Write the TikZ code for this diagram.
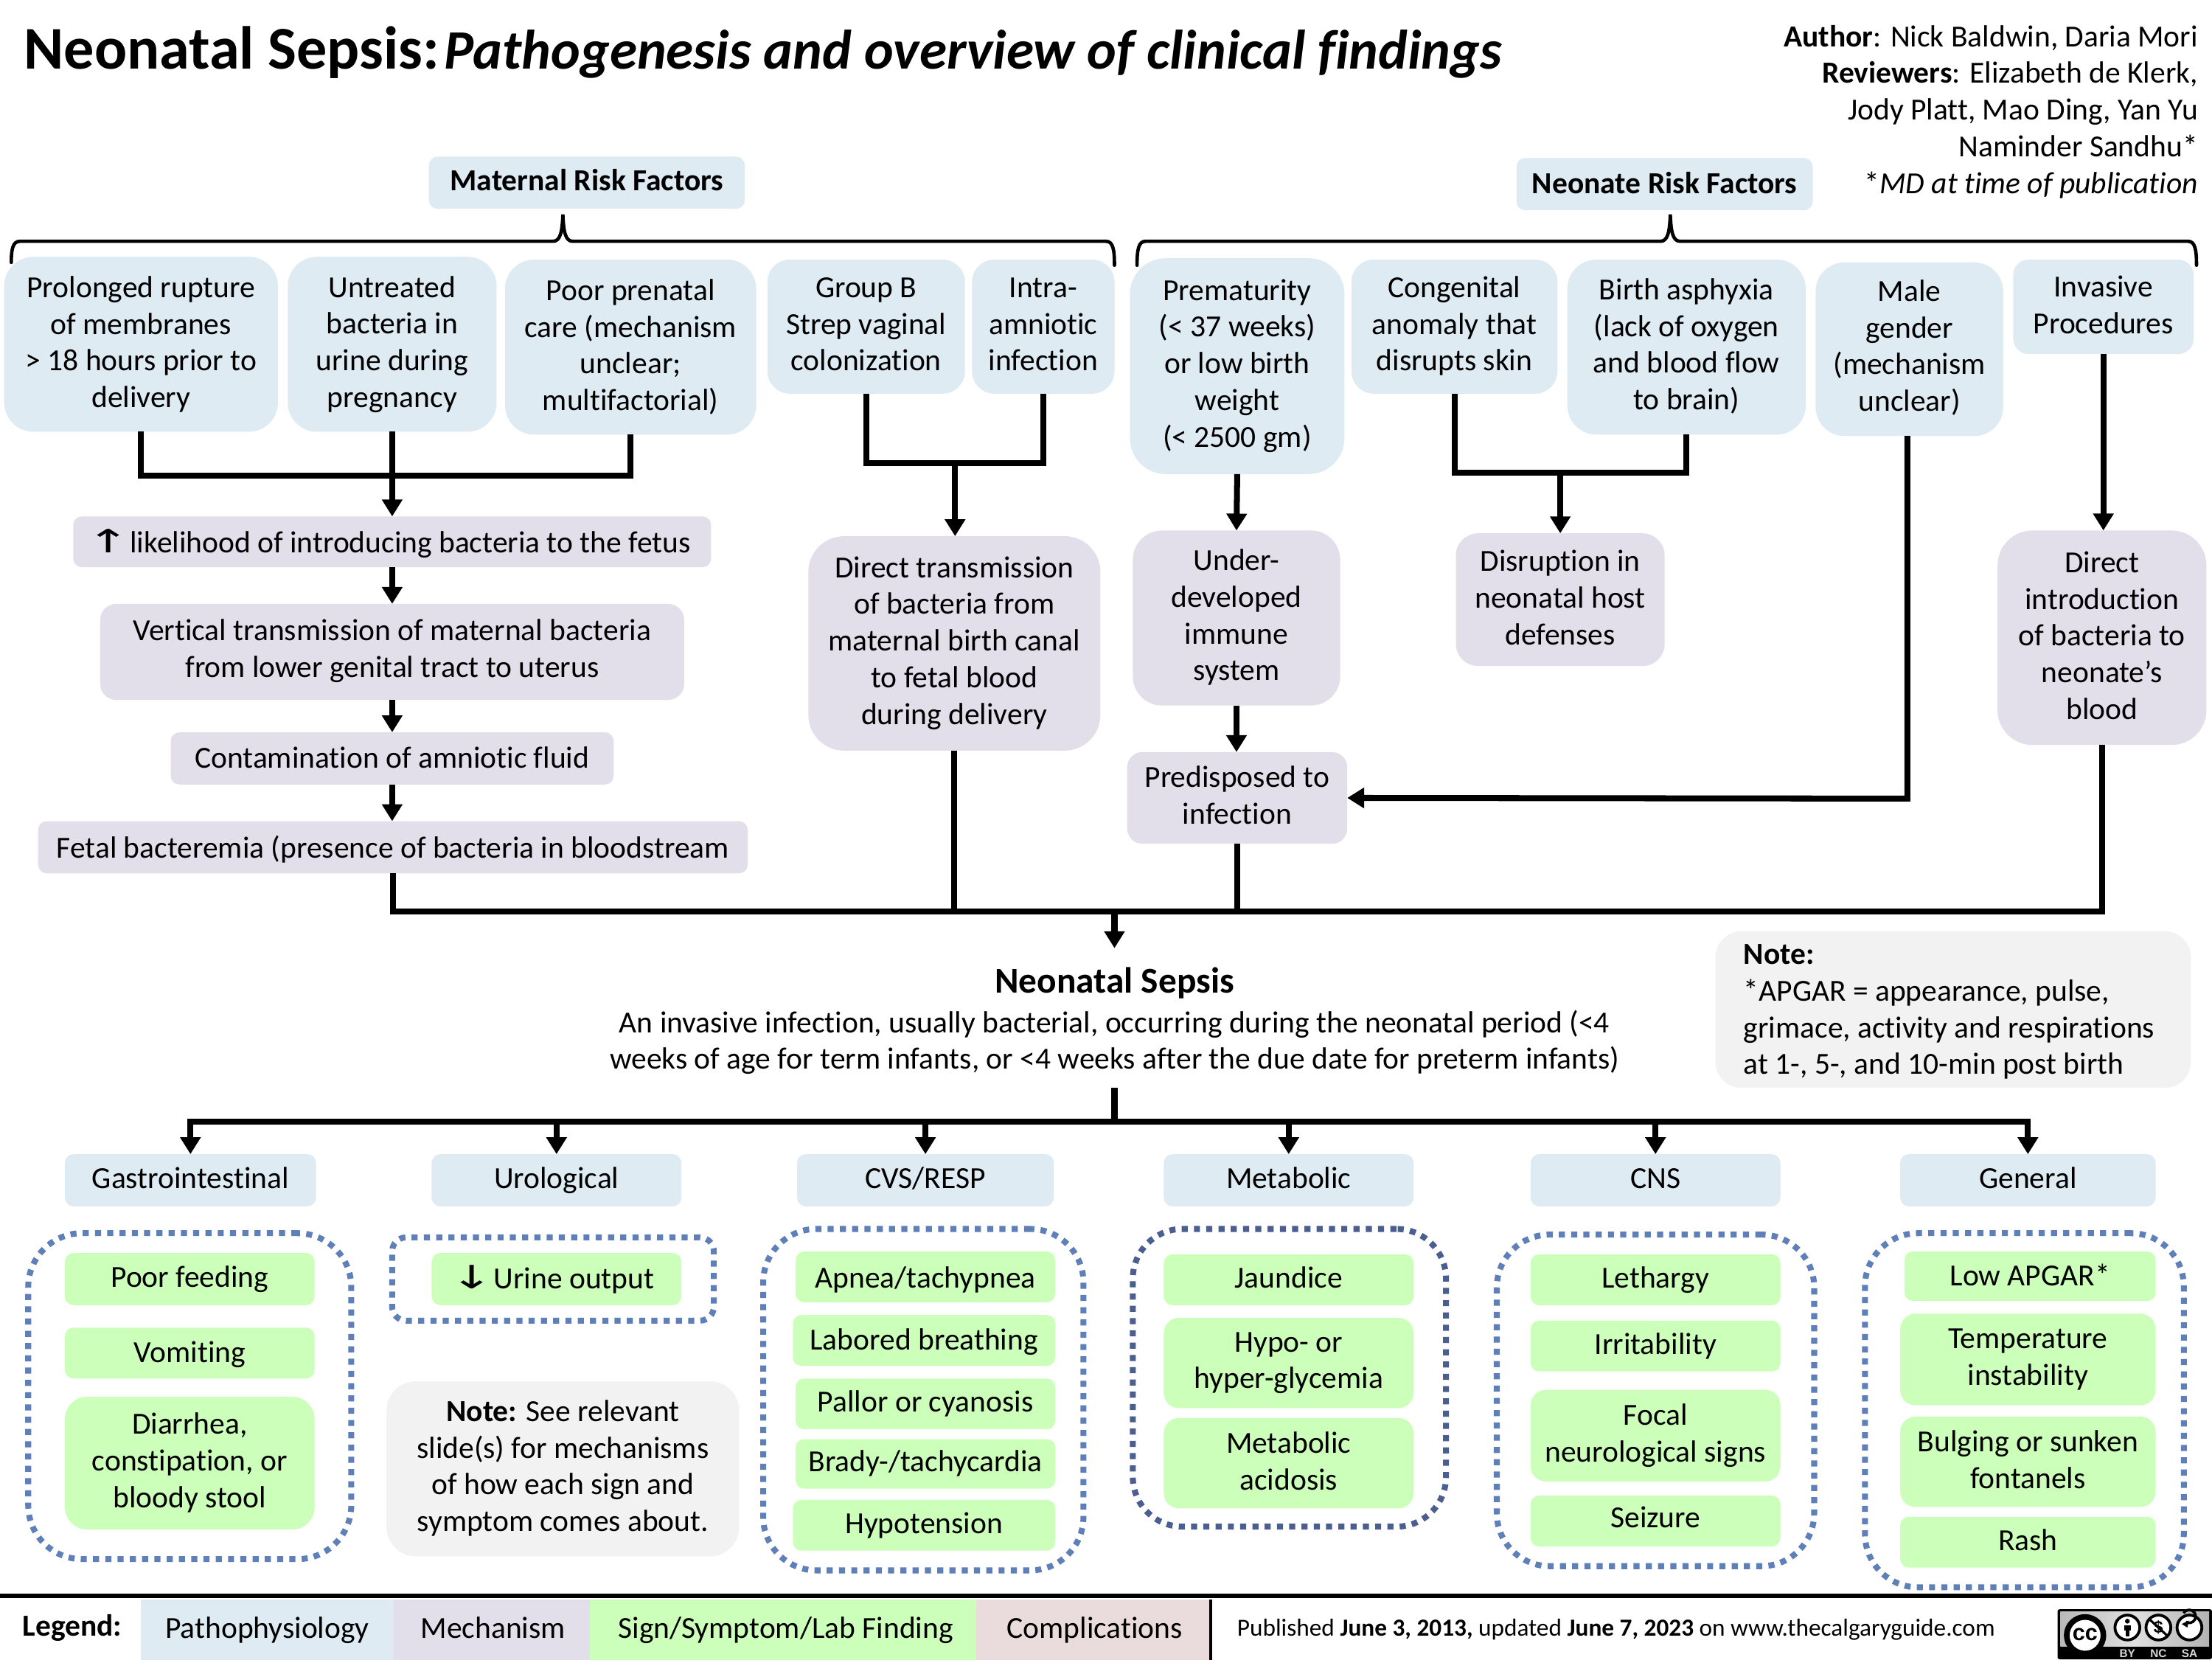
\documentclass[tikz,border=0pt]{standalone}
\usepackage{fontspec}
\setmainfont[Ligatures=NoCommon]{Carlito}
\newfontfamily\arrowfont{DejaVu Sans}
\newfontfamily\badgefont{Liberation Sans}
\usetikzlibrary{arrows.meta}
\definecolor{cblue}{HTML}{DEEBF2}
\definecolor{cpurp}{HTML}{E2DEEA}
\definecolor{cgreen}{HTML}{CCFFBA}
\definecolor{cgray}{HTML}{F2F2F2}
\definecolor{cred}{HTML}{EADCDC}
\definecolor{cdot}{HTML}{5F7FB8}
\definecolor{cdotd}{HTML}{4A5F8F}
\newcommand{\bxx}[7]{%
  \pgfmathsetmacro\cxx{(#2+#4)/2}\pgfmathsetmacro\cyy{(#3+#5)/2}%
  \pgfmathsetmacro\ww{#4-#2}\pgfmathsetmacro\hh{#5-#3}%
  \pgfmathsetmacro\rr{0.1667*min(\ww,\hh)}%
  \node[#6,minimum width=\ww pt,minimum height=\hh pt,rounded corners=\rr pt] (#1) at (\cxx,\cyy) {#7};}
\newcommand{\upar}{{\arrowfont\scalebox{1.7}[1.05]{↑}}}
\newcommand{\dnar}{{\arrowfont\scalebox{1.7}[1.05]{↓}}}
\def\shft{0}
\newcommand{\lowstrut}{\rule[\dimexpr-5.3pt-\shft pt\relax]{0pt}{26pt}}
\tikzset{
  sh/.code={\def\shft{#1}},
  txt/.style={inner sep=0pt,outer sep=0pt,align=center,text=black,
    font=\fontsize{21.7}{26}\selectfont,
    execute at begin node=\lowstrut,execute at end node=\lowstrut},
  blu/.style={txt,fill=cblue},
  pur/.style={txt,fill=cpurp},
  grn/.style={txt,fill=cgreen},
  gry/.style={txt,fill=cgray},
  dotbox/.style={inner sep=0pt,outer sep=0pt,draw=cdot,line width=4.2pt,dash pattern=on 4.3pt off 4.4pt},
  conn/.style={line width=4.2pt,line join=miter,line cap=butt},
  arr/.style={conn,-{Triangle[length=12pt,width=14pt]}},
  brace/.style={line width=2.4pt,line cap=round},
  cell/.style={inner sep=0pt,outer sep=0pt,text=black,rectangle,font=\fontsize{21.7}{26}\selectfont,
    minimum height=43pt,text depth=6pt,text height=18pt},
  ring/.style={fill=white,draw=black,line width=2pt},
  cctxt/.style={inner sep=0pt,font=\badgefont\bfseries}
}
\begin{document}
\begin{tikzpicture}[x=1pt,y=-1pt]
\path[use as bounding box,fill=white] (0,0) rectangle (1568,1176);
% title
\node[txt,anchor=base west,font=\fontsize{43}{46}\selectfont\bfseries] (title) at (17,49) {Neonatal Sepsis:};
\node[txt,anchor=base west,font=\fontsize{39.4}{46}\selectfont\bfseries\itshape] (subtitle) at (315,49) {Pathogenesis and overview of clinical findings};
\node[txt,anchor=east,align=right] (author) at (1558,80) {\textbf{Author}: Nick Baldwin, Daria Mori\\\textbf{Reviewers}: Elizabeth de Klerk,\\Jody Platt, Mao Ding, Yan Yu\\Naminder Sandhu*\\*\textit{MD at time of publication}};
% headers
\bxx{mrf}{304}{111}{528}{148}{blu,sh=2}{\textbf{Maternal Risk Factors}}
\bxx{nrf}{1075}{112}{1285}{149}{blu,sh=1}{\textbf{Neonate Risk Factors}}
% braces
\draw[brace] (8,186) .. controls (8,177) and (9,171) .. (14,171) -- (392,171) .. controls (397,171) and (398.5,165) .. (399,152) .. controls (399.5,165) and (401,171) .. (406,171) -- (784,171) .. controls (789,171) and (790,177) .. (790,188);
\draw[brace] (806,188) .. controls (806,177) and (807,171) .. (812,171) -- (1177,171) .. controls (1182,171) and (1183.5,165) .. (1184,152) .. controls (1184.5,165) and (1186,171) .. (1191,171) -- (1551,171) .. controls (1556,171) and (1557,177) .. (1557,188);
% risk factors
\bxx{p1}{3}{182}{197}{306}{blu,sh=-2}{Prolonged rupture\\of membranes\\> 18 hours prior to\\delivery}
\bxx{p2}{204}{182}{352}{306}{blu,sh=-2}{Untreated\\bacteria in\\urine during\\pregnancy}
\bxx{p3}{358}{184}{536}{308}{blu,sh=-2}{Poor prenatal\\care (mechanism\\unclear;\\multifactorial)}
\bxx{p4}{544}{184}{684}{279}{blu,sh=-2}{Group B\\Strep vaginal\\colonization}
\bxx{p5}{689}{184}{790}{279}{blu,sh=-2}{Intra-\\amniotic\\infection}
\bxx{p6}{801}{183}{953}{336}{blu,sh=-1}{Prematurity\\(< 37 weeks)\\or low birth\\weight\\(< 2500 gm)}
\bxx{p7}{958}{184}{1104}{279}{blu,sh=-1}{Congenital\\anomaly that\\disrupts skin}
\bxx{p8}{1111}{184}{1280}{308}{blu,sh=-1}{Birth asphyxia\\(lack of oxygen\\and blood flow\\to brain)}
\bxx{p9}{1287}{186}{1420}{309}{blu}{Male\\gender\\(mechanism\\unclear)}
\bxx{p10}{1427}{184}{1555}{251}{blu,sh=-2}{Invasive\\Procedures}
% mechanisms
\bxx{m1}{52}{366}{504}{402}{pur}{\upar\hspace{-5pt} likelihood of introducing bacteria to the fetus\hspace*{5pt}}
\bxx{m2}{71}{428}{485}{496}{pur}{Vertical transmission of maternal bacteria\\from lower genital tract to uterus}
\bxx{m3}{121}{519}{435}{556}{pur,sh=1}{Contamination of amniotic fluid}
\bxx{m4}{27}{582}{530}{619}{pur}{Fetal bacteremia (presence of bacteria in bloodstream}
\bxx{m5}{573}{380}{780}{532}{pur,sh=-1}{Direct transmission\\of bacteria from\\maternal birth canal\\to fetal blood\\during delivery}
\bxx{m6}{803}{376}{950}{500}{pur,sh=-1}{Under-\\developed\\immune\\system}
\bxx{m7}{799}{533}{955}{598}{pur,sh=-1}{Predisposed to\\infection}
\bxx{m8}{1032}{378}{1180}{472}{pur,sh=-2}{Disruption in\\neonatal host\\defenses}
\bxx{m9}{1416}{376}{1564}{528}{pur,sh=-2}{Direct\\introduction\\of bacteria to\\neonate’s\\blood}
% connectors top
\coordinate (j1) at (278,337);
\draw[conn] (p1.south) |- (j1) -| (p3.south);
\draw[arr] (p2.south) -- (m1.north);
\draw[arr] (m1.south) -- (m2.north -| m1.south);
\draw[arr] (m2.south) -- (m3.north);
\draw[arr] (m3.south) -- (m4.north -| m3.south);
\coordinate (j2) at (677,328);
\draw[conn] (p4.south) |- (j2) -| (p5.south);
\draw[arr] (j2) -- (m5.north -| j2);
\draw[arr] (p6.south) -- (m6.north);
\draw[arr] (m6.south) -- (m6.south |- m7.north);
\coordinate (j3) at (1106,335);
\draw[conn] (p7.south) |- (j3) -| (p8.south);
\draw[arr] (j3) -- (m8.north);
\coordinate (j4) at (1352,566);
\draw[arr] (p9.south -| j4) -- (j4) -- (m7.east);
\draw[arr] (p10.south) -- (m9.north -| p10.south);
\coordinate (j5) at (790,646);
\draw[conn] (m4.south) |- (m9.south |- j5) -- (m9.south);
\draw[conn] (m5.south) -- (m5.south |- j5);
\draw[conn] (m7.south) -- (m7.south |- j5);
% neonatal sepsis
\node[txt,anchor=base,font=\fontsize{25.8}{30}\selectfont\bfseries] (ns) at (790,704) {Neonatal Sepsis};
\coordinate (j7) at (790,672);
\draw[arr] (j5) -- (j7);
\node[txt,sh=-1] (nsd) at (790,739) {An invasive infection, usually bacterial, occurring during the neonatal period (<4\\weeks of age for term infants, or <4 weeks after the due date for preterm infants)};
\bxx{note1}{1216}{660}{1553}{771}{gry}{}
\node[txt,align=left,anchor=west] (note1t) at (1236,718) {\textbf{Note:}\\*APGAR = appearance, pulse,\\grimace, activity and respirations\\at 1-, 5-, and 10-min post birth};
% category headers
\bxx{h1}{46}{818}{224}{855}{blu,sh=2}{Gastrointestinal}
\bxx{h2}{306}{818}{483}{855}{blu,sh=2}{Urological}
\bxx{h3}{565}{818}{747}{855}{blu,sh=2}{CVS/RESP}
\bxx{h4}{825}{818}{1002}{855}{blu,sh=2}{Metabolic}
\bxx{h5}{1085}{818}{1262}{855}{blu,sh=2}{CNS}
\bxx{h6}{1347}{818}{1528}{855}{blu,sh=2}{General}
\coordinate (j6) at (790,795);
\coordinate (j8) at (790,771);
\draw[conn] (j8) -- (j6);
\draw[arr] (j6) -| (h1.north);
\draw[arr] (j6) -| (h6.north);
\draw[arr] (h2.north |- j6) -- (h2.north);
\draw[arr] (h3.north |- j6) -- (h3.north);
\draw[arr] (h4.north |- j6) -- (h4.north);
\draw[arr] (h5.north |- j6) -- (h5.north);
% dotted containers
\bxx{d1}{20}{874}{249}{1105}{dotbox}{}
\bxx{d2}{278}{877}{506}{936}{dotbox}{}
\bxx{d3}{541}{871}{768}{1113}{dotbox}{}
\bxx{d4}{803}{871}{1025}{1082}{dotbox,draw=cdotd}{}
\bxx{d5}{1061}{875}{1286}{1110}{dotbox}{}
\bxx{d6}{1322}{874}{1548}{1125}{dotbox}{}
% findings
\bxx{g1}{46}{888}{223}{925}{grn,sh=2}{Poor feeding}
\bxx{g2}{46}{941}{223}{977}{grn,sh=1}{Vomiting}
\bxx{g3}{46}{990}{223}{1084}{grn,sh=-1}{Diarrhea,\\constipation, or\\bloody stool}
\bxx{u1}{306}{888}{483}{925}{grn,sh=1}{\dnar\hspace{-5pt} Urine output\hspace*{6pt}}
\bxx{note2}{274}{979}{524}{1103}{gry,sh=-1}{\textbf{Note:} See relevant\\slide(s) for mechanisms\\of how each sign and\\symptom comes about.}
\bxx{c1}{564}{887}{748}{923}{grn}{Apnea/tachypnea}
\bxx{c2}{562}{932}{748}{968}{grn,sh=1}{Labored breathing}
\bxx{c3}{564}{977}{748}{1013}{grn,sh=2}{Pallor or cyanosis}
\bxx{c4}{564}{1020}{748}{1055}{grn,sh=2}{Brady-/tachycardia}
\bxx{c5}{562}{1063}{748}{1099}{grn,sh=2}{Hypotension}
\bxx{e1}{825}{889}{1002}{925}{grn,sh=2}{Jaundice}
\bxx{e2}{825}{934}{1002}{998}{grn,sh=-2}{Hypo- or\\hyper-glycemia}
\bxx{e3}{825}{1005}{1002}{1069}{grn,sh=-2}{Metabolic\\acidosis}
\bxx{n1}{1085}{889}{1262}{925}{grn,sh=2}{Lethargy}
\bxx{n2}{1085}{936}{1262}{972}{grn,sh=2}{Irritability}
\bxx{n3}{1085}{985}{1262}{1050}{grn,sh=-2}{Focal\\neurological signs}
\bxx{n4}{1085}{1060}{1262}{1096}{grn,sh=3}{Seizure}
\bxx{k1}{1350}{887}{1528}{922}{grn,sh=1}{Low APGAR*}
\bxx{k2}{1347}{931}{1528}{996}{grn,sh=-2}{Temperature\\instability}
\bxx{k3}{1347}{1004}{1528}{1068}{grn,sh=-2}{Bulging or sunken\\fontanels}
\bxx{k4}{1347}{1075}{1528}{1111}{grn,sh=2}{Rash}
% legend band
\draw[line width=3pt] (0,1131) -- (1568,1131);
\node[txt,anchor=west,font=\fontsize{21.7}{26}\selectfont\bfseries] (lg) at (16,1152) {Legend:};
\node[cell,fill=cblue,minimum width=179pt] (l1) at (189.5,1155) {Pathophysiology};
\node[cell,fill=cpurp,minimum width=139pt] (l2) at (348.5,1155) {\hspace*{2pt}Mechanism};
\node[cell,fill=cgreen,minimum width=274pt] (l3) at (555,1155) {\hspace*{4pt}Sign/Symptom/Lab Finding};
\node[cell,fill=cred,minimum width=166pt] (l4) at (775,1155) {\hspace*{2pt}Complications};
\draw[line width=2pt] (l4.north east) -- (l4.south east);
\node[txt,anchor=west,font=\fontsize{17.4}{21}\selectfont] (pub) at (877,1152) {Published \textbf{June 3, 2013,} updated \textbf{June 7, 2023} on www.thecalgaryguide.com};
% licence badge
\fill[black,rounded corners=1.5pt] (1458.5,1140.5) rectangle (1568,1176);
\fill[left color=gray!55,right color=gray!60,middle color=gray!25] (1460.5,1142.5) rectangle (1566,1167);
\draw[ring,line width=4pt] (1478,1159) circle (13);
\node[cctxt,font=\badgefont\bfseries\fontsize{16}{17}\selectfont] (cc) at (1478,1158.5) {cc};
\draw[ring] (1508,1153.5) circle (8.8);
\fill (1508,1149) circle (1.7);
\fill (1505.7,1151.7) rectangle (1510.3,1155.5);
\fill (1506.8,1155) rectangle (1509.2,1160);
\draw[ring] (1530,1153.5) circle (8.8);
\node[cctxt,font=\badgefont\bfseries\fontsize{12}{13}\selectfont] (dollar) at (1530,1153.5) {\$};
\draw[line width=1.6pt] (1523.5,1147.5) -- (1536.5,1159.5);
\draw[ring] (1552,1153.5) circle (8.8);
\draw[line width=1.9pt] (1549.5,1149.6) arc[start angle=120,end angle=-150,radius=4.6];
\fill (1546.5,1151) -- (1551.5,1148.5) -- (1550.5,1153.5) -- cycle;
\node[cctxt,text=white!85!black,font=\badgefont\bfseries\fontsize{8}{9}\selectfont] (ccby) at (1508,1172) {BY};
\node[cctxt,text=white!85!black,font=\badgefont\bfseries\fontsize{8}{9}\selectfont] (ccnc) at (1530,1172) {NC};
\node[cctxt,text=white!85!black,font=\badgefont\bfseries\fontsize{8}{9}\selectfont] (ccsa) at (1552,1172) {SA};
\end{tikzpicture}
\end{document}
